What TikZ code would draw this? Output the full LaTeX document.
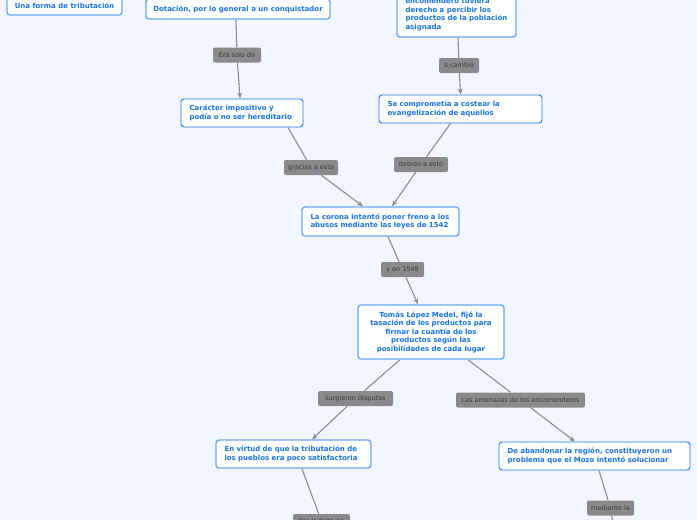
\documentclass[tikz,border=0pt]{standalone}
\usepackage{fontspec}
\setmainfont{DejaVu Sans}
\usetikzlibrary{arrows.meta}
\definecolor{bgc}{RGB}{243,246,254}
\definecolor{txtblue}{RGB}{26,116,224}
\definecolor{bdark}{RGB}{31,123,230}
\definecolor{blight}{RGB}{106,169,245}
\definecolor{lblfill}{RGB}{138,138,140}
\definecolor{lbltxt}{RGB}{58,58,58}
\definecolor{linec}{RGB}{140,140,142}
\tikzset{
  topic/.style={draw=bdark, line width=0.9pt, fill=white, rounded corners=3pt,
    text=txtblue, font=\bfseries\fontsize{7}{8.5}\selectfont,
    inner xsep=8.5pt, inner ysep=0pt, align=left},
  topicl/.style={topic, draw=blight, line width=1.4pt},
  lbl/.style={fill=lblfill, rounded corners=2pt, text=lbltxt,
    font=\fontsize{6.5}{7.5}\selectfont, inner sep=0pt, minimum height=15pt},
  conn/.style={draw=linec, line width=1.1pt},
  arr/.style={conn, -{Stealth[length=6pt,width=5pt]}}
}
\begin{document}
\begin{tikzpicture}[x=1pt,y=-1pt]
\fill[bgc] (0,0) rectangle (697,520);
\useasboundingbox (0,0) rectangle (697,520);
\clip (0,0) rectangle (697,520);

% topic nodes
\node[topicl, inner xsep=2pt, minimum width=115pt, minimum height=18pt] (A) at (64.5,6) {Una forma de tributación};
\node[topicl, inner xsep=2pt, minimum width=184pt, minimum height=20pt] (B) at (238,9) {Dotación, por lo general a un conquistador};
\node[topicl, text width=102pt, minimum height=45pt] (C) at (456.5,14.5) {encomendero tuviera\\derecho a percibir los\\productos de la población\\asignada};
\node[topic, text width=105pt, minimum height=28pt] (D) at (242,113) {Carácter impositivo y\\podía o no ser hereditario};
\node[topic, text width=146pt, minimum height=28pt] (E) at (460.5,109) {Se comprometía a costear la\\evangelización de aquellos};
\node[topicl, text width=140pt, minimum height=29pt] (F) at (380.5,221.5) {La corona intentó poner freno a los\\abusos mediante las leyes de 1542};
\node[topicl, text width=129pt, minimum height=54pt, align=center] (G) at (431,332) {Tomás López Medel, fijó la\\tasación de los productos para\\firmar la cuantía de los\\productos según las\\posibilidades de cada lugar};
\node[topicl, text width=138pt, minimum height=28pt] (H) at (293.5,454) {En virtud de que la tributación de\\los pueblos era poco satisfactoria};
\node[topic, text width=174pt, minimum height=28pt] (I) at (594.5,456) {De abandonar la región, constituyeron un\\problema que el Mozo intentó solucionar};

% connector end points on the topic borders
\coordinate (Bs) at ([xshift=-2pt]B.south);
\coordinate (Dn) at ([xshift=-2pt]D.north);
\coordinate (Cs) at ([xshift=1.5pt]C.south);
\coordinate (En) at (E.north);
\coordinate (Ds) at ([xshift=46pt]D.south);
\coordinate (Fn1) at ([xshift=-17.5pt]F.north);
\coordinate (Es) at ([xshift=-10pt]E.south);
\coordinate (Fn2) at ([xshift=11.5pt]F.north);
\coordinate (Fs) at ([xshift=7.5pt]F.south);
\coordinate (Gn) at ([xshift=-13pt]G.north);
\coordinate (Gs1) at ([xshift=-31pt]G.south);
\coordinate (Hn) at ([xshift=18.5pt]H.north);
\coordinate (Gs2) at ([xshift=37pt]G.south);
\coordinate (In) at ([xshift=-19.5pt]I.north);
\coordinate (Hs) at ([xshift=8.5pt]H.south);
\coordinate (Is) at ([xshift=4.5pt]I.south);
\coordinate (Lend) at (613,524);

% labels
\node[lbl, minimum width=48pt] (L1) at (237,55) {Era solo de};
\node[lbl, minimum width=40pt] (L2) at (459,65.5) {a cambio};
\node[lbl, minimum width=54pt] (L3) at (311,167.5) {gracias a esto};
\node[lbl, minimum width=54pt] (L4) at (421,164.5) {debido a esto};
\node[lbl, minimum width=43pt] (L5) at (402.5,269.5) {y en 1548};
\node[lbl, minimum width=75pt] (L6) at (355.5,398.5) {surgieron disputas};
\node[lbl, minimum width=129pt] (L7) at (520.5,400) {Las amenazas de los encomenderos};
\node[lbl, minimum width=47pt] (L8) at (610.5,508) {mediante la};
\node[lbl, minimum width=57pt] (L9) at (321.5,521.5) {Por la falta de};

\draw[conn] (Bs) -- (L1);
\draw[arr] (L1) -- (Dn);
\draw[conn] (Cs) -- (L2);
\draw[arr] (L2) -- (En);
\draw[conn] (Ds) -- (L3);
\draw[arr] (L3) -- (Fn1);
\draw[conn] (Es) -- (L4);
\draw[arr] (L4) -- (Fn2);
\draw[conn] (Fs) -- (L5);
\draw[arr] (L5) -- (Gn);
\draw[conn] (Gs1) -- (L6);
\draw[arr] (L6) -- (Hn);
\draw[conn] (Gs2) -- (L7);
\draw[arr] (L7) -- (In);
\draw[conn] (Hs) -- (L9);
\draw[conn] (Is) -- (L8);
\draw[conn] (L8) -- (Lend);
\end{tikzpicture}
\end{document}
